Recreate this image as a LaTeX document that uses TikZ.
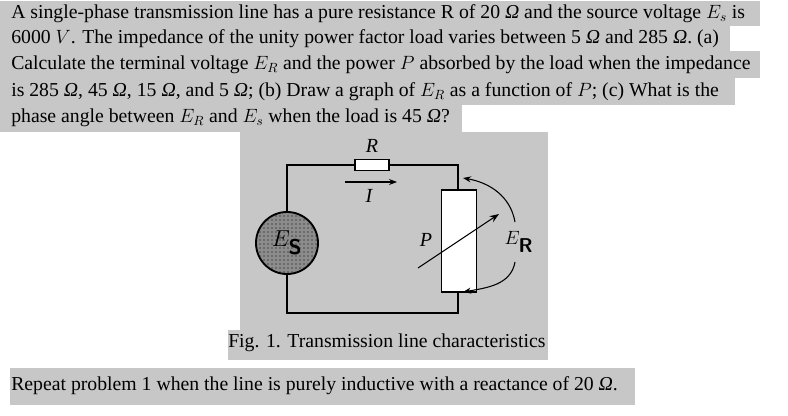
\documentclass[tikz,border=0pt]{standalone}
\usepackage{fontspec}
\setmainfont{Liberation Serif}
\usetikzlibrary{patterns,arrows.meta}
\newcommand{\Om}{\textit{Ω}}
\begin{document}
\begin{tikzpicture}[x=0.75pt,y=-0.75pt,
  band/.style={fill=black!22,draw=none},
  txt/.style={anchor=west,inner sep=0pt,font=\fontsize{14.8}{16}\selectfont},
  wire/.style={line width=1.4pt},
  lbl/.style={font=\fontsize{15}{16}\selectfont\itshape,inner sep=1pt}]
\useasboundingbox (0,0) rectangle (788,416);
\fill[white] (0,0) rectangle (788,416);
% highlight bands
\fill[band] (0,1) rectangle (760,26);
\fill[band] (0,26) rectangle (730,51);
\fill[band] (0,51) rectangle (760,78);
\fill[band] (0,78) rectangle (735,105);
\fill[band] (0,105) rectangle (462,132);
\fill[band] (240,132) rectangle (548,330);
\fill[band] (228,330) rectangle (548,360);
\fill[band] (10,368) rectangle (635,405);
% text
\node[txt] (l1) at (11,14) {A single-phase transmission line has a pure resistance R of 20 \Om{} and the source voltage $E_s$ is};
\node[txt] (l2) at (11,39) {6000 $V$. The impedance of the unity power factor load varies between 5 \Om{} and 285 \Om. (a)};
\node[txt] (l3) at (11,65) {Calculate the terminal voltage $E_R$ and the power $P$ absorbed by the load when the impedance};
\node[txt] (l4) at (11,92) {is 285 \Om, 45 \Om, 15 \Om, and 5 \Om; (b) Draw a graph of $E_R$ as a function of $P$; (c) What is the};
\node[txt] (l5) at (11,118) {phase angle between $E_R$ and $E_s$ when the load is 45 \Om?};
\node[txt] (cap) at (228,343) {Fig. 1. Transmission line characteristics};
\node[txt] (l6) at (11,386) {Repeat problem 1 when the line is purely inductive with a reactance of 20 \Om.};
% circuit
\coordinate (tl) at (287,165);
\coordinate (tr) at (458,165);
\coordinate (bl) at (287,313);
\coordinate (br) at (458,313);
\node[draw,line width=1.4pt,minimum width=34*0.75pt,minimum height=11*0.75pt,inner sep=0pt,fill=white] (R) at (372,165) {};
\draw[wire] (R.west) -- (tl) -- (287,212);
\draw[wire] (287,274) -- (bl) -- (br) -- (458,292);
\draw[wire] (R.east) -- (tr) -- (458,190);
\node[circle,draw,line width=1.4pt,minimum size=62*0.75pt,fill=black!45] (src) at (287,243) {};
\fill[pattern=dots,pattern color=black] (287,243) circle[radius=30];
\node[font=\fontsize{16}{16}\selectfont,inner sep=0pt] at (287,243) {$E_{\textsf{\textbf{S}}}$};
\node[draw,line width=1.2pt,fill=white,minimum width=35*0.75pt,minimum height=102*0.75pt,inner sep=0pt] (load) at (459,241) {};
\draw[-{Stealth[length=7pt]},line width=0.8pt] (418,268) -- (499,214);
\node[lbl] (P) at (426,240) {P};
\draw[-{Stealth[length=6pt]},line width=0.8pt] (345,182) -- (397,182);
\node[lbl] (I) at (369,196) {I};
\node[lbl] (Rl) at (372,146) {R};
\draw[-{Stealth[length=6pt]},line width=0.8pt] (515,222) to[out=100,in=-10] (463,178);
\draw[-{Stealth[length=6pt]},line width=0.8pt] (515,262) to[out=-100,in=10] (463,292);
\node[font=\fontsize{15}{16}\selectfont] (ER) at (519,242) {$E_{\textsf{\textbf{R}}}$};
\end{tikzpicture}
\end{document}
